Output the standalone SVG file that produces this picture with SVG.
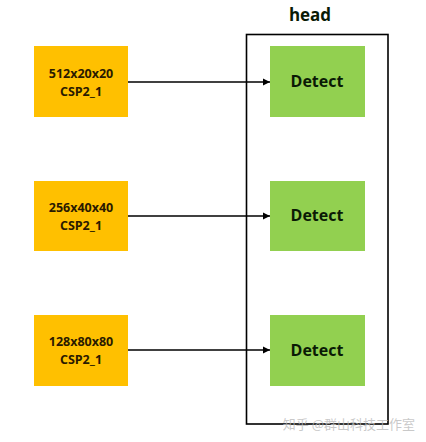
<svg xmlns="http://www.w3.org/2000/svg" width="426" height="442" viewBox="0 0 426 442">
<style>
.src{fill:#FFC000}
.det{fill:#92D050}
.t1{font-family:"Open Sans","Liberation Sans",sans-serif;font-weight:bold;font-size:12.5px;fill:#2a1a00;text-anchor:middle}
.t2{font-family:"Open Sans","Liberation Sans",sans-serif;font-weight:bold;font-size:16px;fill:#0a1a05;text-anchor:middle}
.edge{stroke:#000;stroke-width:1.3;fill:none;marker-end:url(#ah)}
</style>
<defs>
<marker id="ah" markerWidth="8" markerHeight="8" refX="7" refY="4" orient="auto" markerUnits="userSpaceOnUse">
<path d="M0,0.5 L7,4 L0,7.5 z" fill="#000"/>
</marker>
</defs>
<rect width="426" height="442" fill="#fff"/>
<g id="head">
<rect x="246.5" y="34.5" width="141.5" height="389.5" fill="none" stroke="#000" stroke-width="1.6"/>
<text x="310" y="21" class="t2" style="font-size:17px">head</text>
</g>
<g id="src1"><rect class="src" x="34" y="46" width="94" height="71"/><text class="t1" x="81" y="78">512x20x20</text><text class="t1" x="81" y="96">CSP2_1</text></g>
<g id="src2"><rect class="src" x="34" y="181" width="94" height="70"/><text class="t1" x="81" y="212">256x40x40</text><text class="t1" x="81" y="230">CSP2_1</text></g>
<g id="src3"><rect class="src" x="34" y="315" width="94" height="71"/><text class="t1" x="81" y="346">128x80x80</text><text class="t1" x="81" y="364">CSP2_1</text></g>
<g id="det1"><rect class="det" x="270" y="46" width="95" height="71"/><text class="t2" x="317" y="87">Detect</text></g>
<g id="det2"><rect class="det" x="270" y="181" width="95" height="70"/><text class="t2" x="317" y="221">Detect</text></g>
<g id="det3"><rect class="det" x="270" y="315" width="95" height="71"/><text class="t2" x="317" y="356">Detect</text></g>
<g id="connectors">
<line class="edge" x1="128" y1="82" x2="270" y2="82"/>
<line class="edge" x1="128" y1="216" x2="270" y2="216"/>
<line class="edge" x1="128" y1="350" x2="270" y2="350"/>
</g>
<text x="415" y="429" text-anchor="end" font-family="'Noto Sans CJK SC',sans-serif" font-size="13" fill="#bbb" fill-opacity="0.8">知乎 @群山科技工作室</text>
</svg>
